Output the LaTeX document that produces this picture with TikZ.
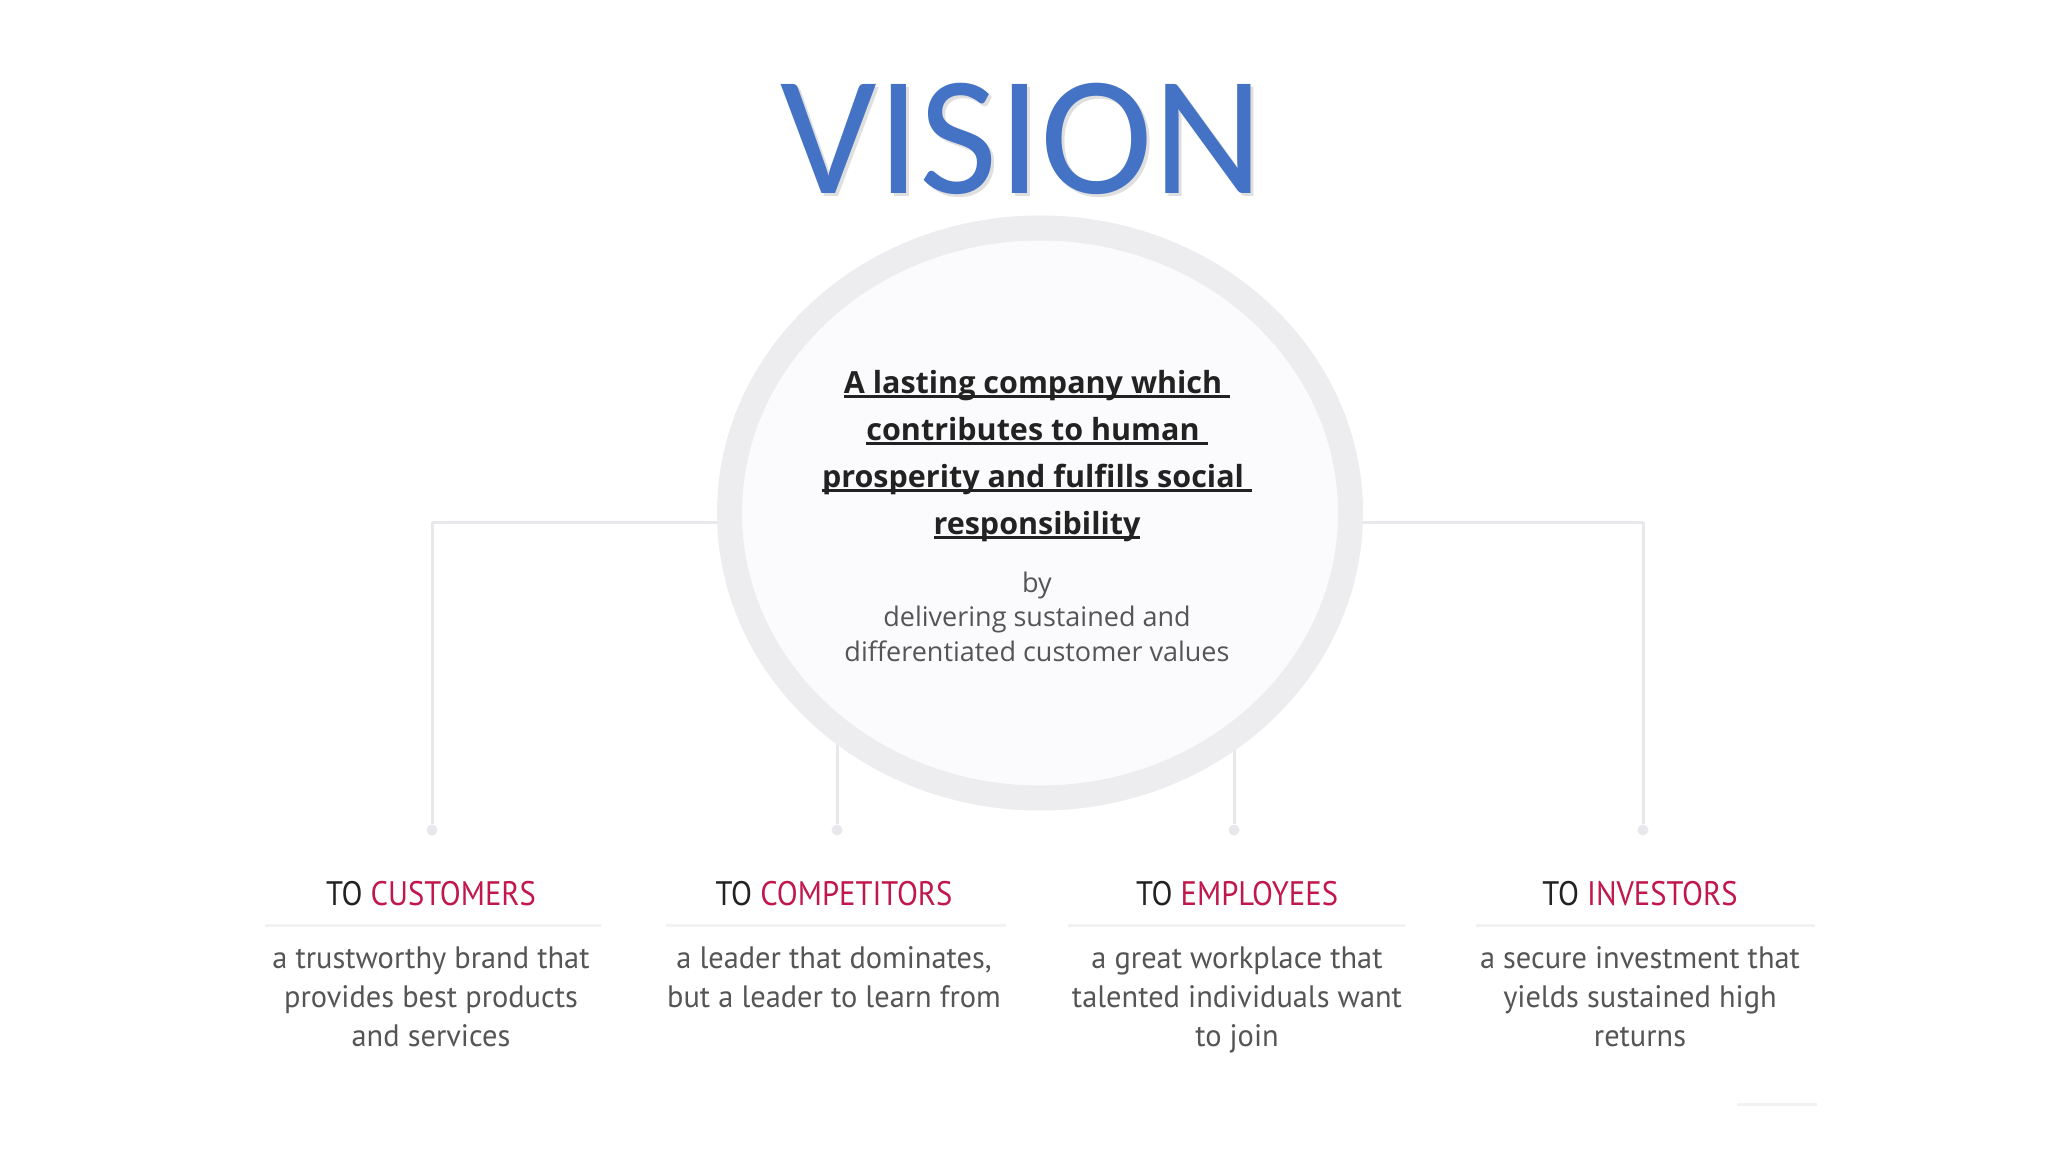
\documentclass[tikz,border=0pt]{standalone}
\usepackage{fontspec}
\setmainfont{Open Sans}
\newfontfamily\titlefont{Carlito}
\newfontfamily\headfont[FakeStretch=0.9]{PT Sans}
\newfontfamily\descfont[FakeStretch=0.98]{PT Sans}
\usetikzlibrary{shapes.geometric}
\definecolor{titleblue}{HTML}{4472C4}
\definecolor{ringgray}{HTML}{EDEDF0}
\definecolor{innerfill}{HTML}{FBFBFD}
\definecolor{linegray}{HTML}{E8E8EC}
\definecolor{sepgray}{HTML}{F2F2F4}
\definecolor{lgred}{HTML}{C0184C}
\definecolor{darktext}{HTML}{222222}
\definecolor{graytext}{HTML}{555555}
\newcommand\lineul[1]{\setbox0\hbox{#1}\rlap{\rule[-4.5pt]{\wd0}{2.2pt}}\box0}
\tikzset{
  conn/.style={draw=linegray, line width=3pt},
  enddot/.style={circle, fill=linegray, minimum size=11pt, inner sep=0pt},
  sepline/.style={draw=sepgray, line width=3pt},
  head/.style={anchor=base, inner sep=0pt, text=darktext, font=\headfont\fontsize{34}{34}\selectfont},
  desc/.style={anchor=base, inner sep=0pt, align=center, text=graytext, font=\descfont\fontsize{31}{39}\selectfont},
}
\begin{document}
\begin{tikzpicture}[x=1pt, y=-1pt]
\useasboundingbox[fill=white] (0,0) rectangle (2048,1152);
% title
\node[anchor=base, inner sep=0pt, text=black!35, opacity=0.35, font=\titlefont\fontsize{170}{170}\selectfont] (titleshadow) at (1025,196) {VISION};
\node[anchor=base, inner sep=0pt, text=titleblue, font=\titlefont\fontsize{170}{170}\selectfont] (title) at (1022,193) {VISION};
% connector coordinates and end dots
\coordinate (t1) at (432,522);
\coordinate (t4) at (1643,522);
\coordinate (t2) at (837,700);
\coordinate (t3) at (1234,700);
\node[enddot] (d1) at (432,830) {};
\node[enddot] (d2) at (837,830) {};
\node[enddot] (d3) at (1234,830) {};
\node[enddot] (d4) at (1643,830) {};
\draw[conn] (t1) -- (t4);
\draw[conn] (t1) -- (d1);
\draw[conn] (t2) -- (d2);
\draw[conn] (t3) -- (d3);
\draw[conn] (t4) -- (d4);
% central ring
\node[ellipse, draw=ringgray, line width=25pt, fill=innerfill, minimum width=621pt, minimum height=570pt, inner sep=0pt] (ring) at (1040,513) {};
% circle text (base anchor = baseline of last line)
\node[anchor=base, inner sep=0pt, align=center, text=darktext, font=\bfseries\fontsize{30.5}{47}\selectfont] (mainvision) at (1037,534)
  {\lineul{A lasting company which\ }\\\lineul{contributes to human\ }\\\lineul{prosperity and fulfills social\ }\\\lineul{responsibility}};
\node[anchor=base, inner sep=0pt, align=center, text=graytext, font=\fontsize{27}{34.5}\selectfont] (byline) at (1037,661)
  {by\\delivering sustained and\\differentiated customer values};
% columns
\node[head] (h1) at (431,905) {TO \textcolor{lgred}{CUSTOMERS}};
\node[head] (h2) at (834,905) {TO \textcolor{lgred}{COMPETITORS}};
\node[head] (h3) at (1237,905) {TO \textcolor{lgred}{EMPLOYEES}};
\node[head] (h4) at (1640,905) {TO \textcolor{lgred}{INVESTORS}};
\draw[sepline] (265,925) -- (601,925);
\draw[sepline] (666,925) -- (1006,925);
\draw[sepline] (1068,925) -- (1405,925);
\draw[sepline] (1476,925) -- (1815,925);
\node[desc] (p1) at (431,1046) {a trustworthy brand that\\provides best products\\and services};
\node[desc] (p2) at (834,1007) {a leader that dominates,\\but a leader to learn from};
\node[desc] (p3) at (1237,1046) {a great workplace that\\talented individuals want\\to join};
\node[desc] (p4) at (1640,1046) {a secure investment that\\yields sustained high\\returns};
\draw[sepline] (1737,1104) -- (1817,1104);
\end{tikzpicture}
\end{document}
